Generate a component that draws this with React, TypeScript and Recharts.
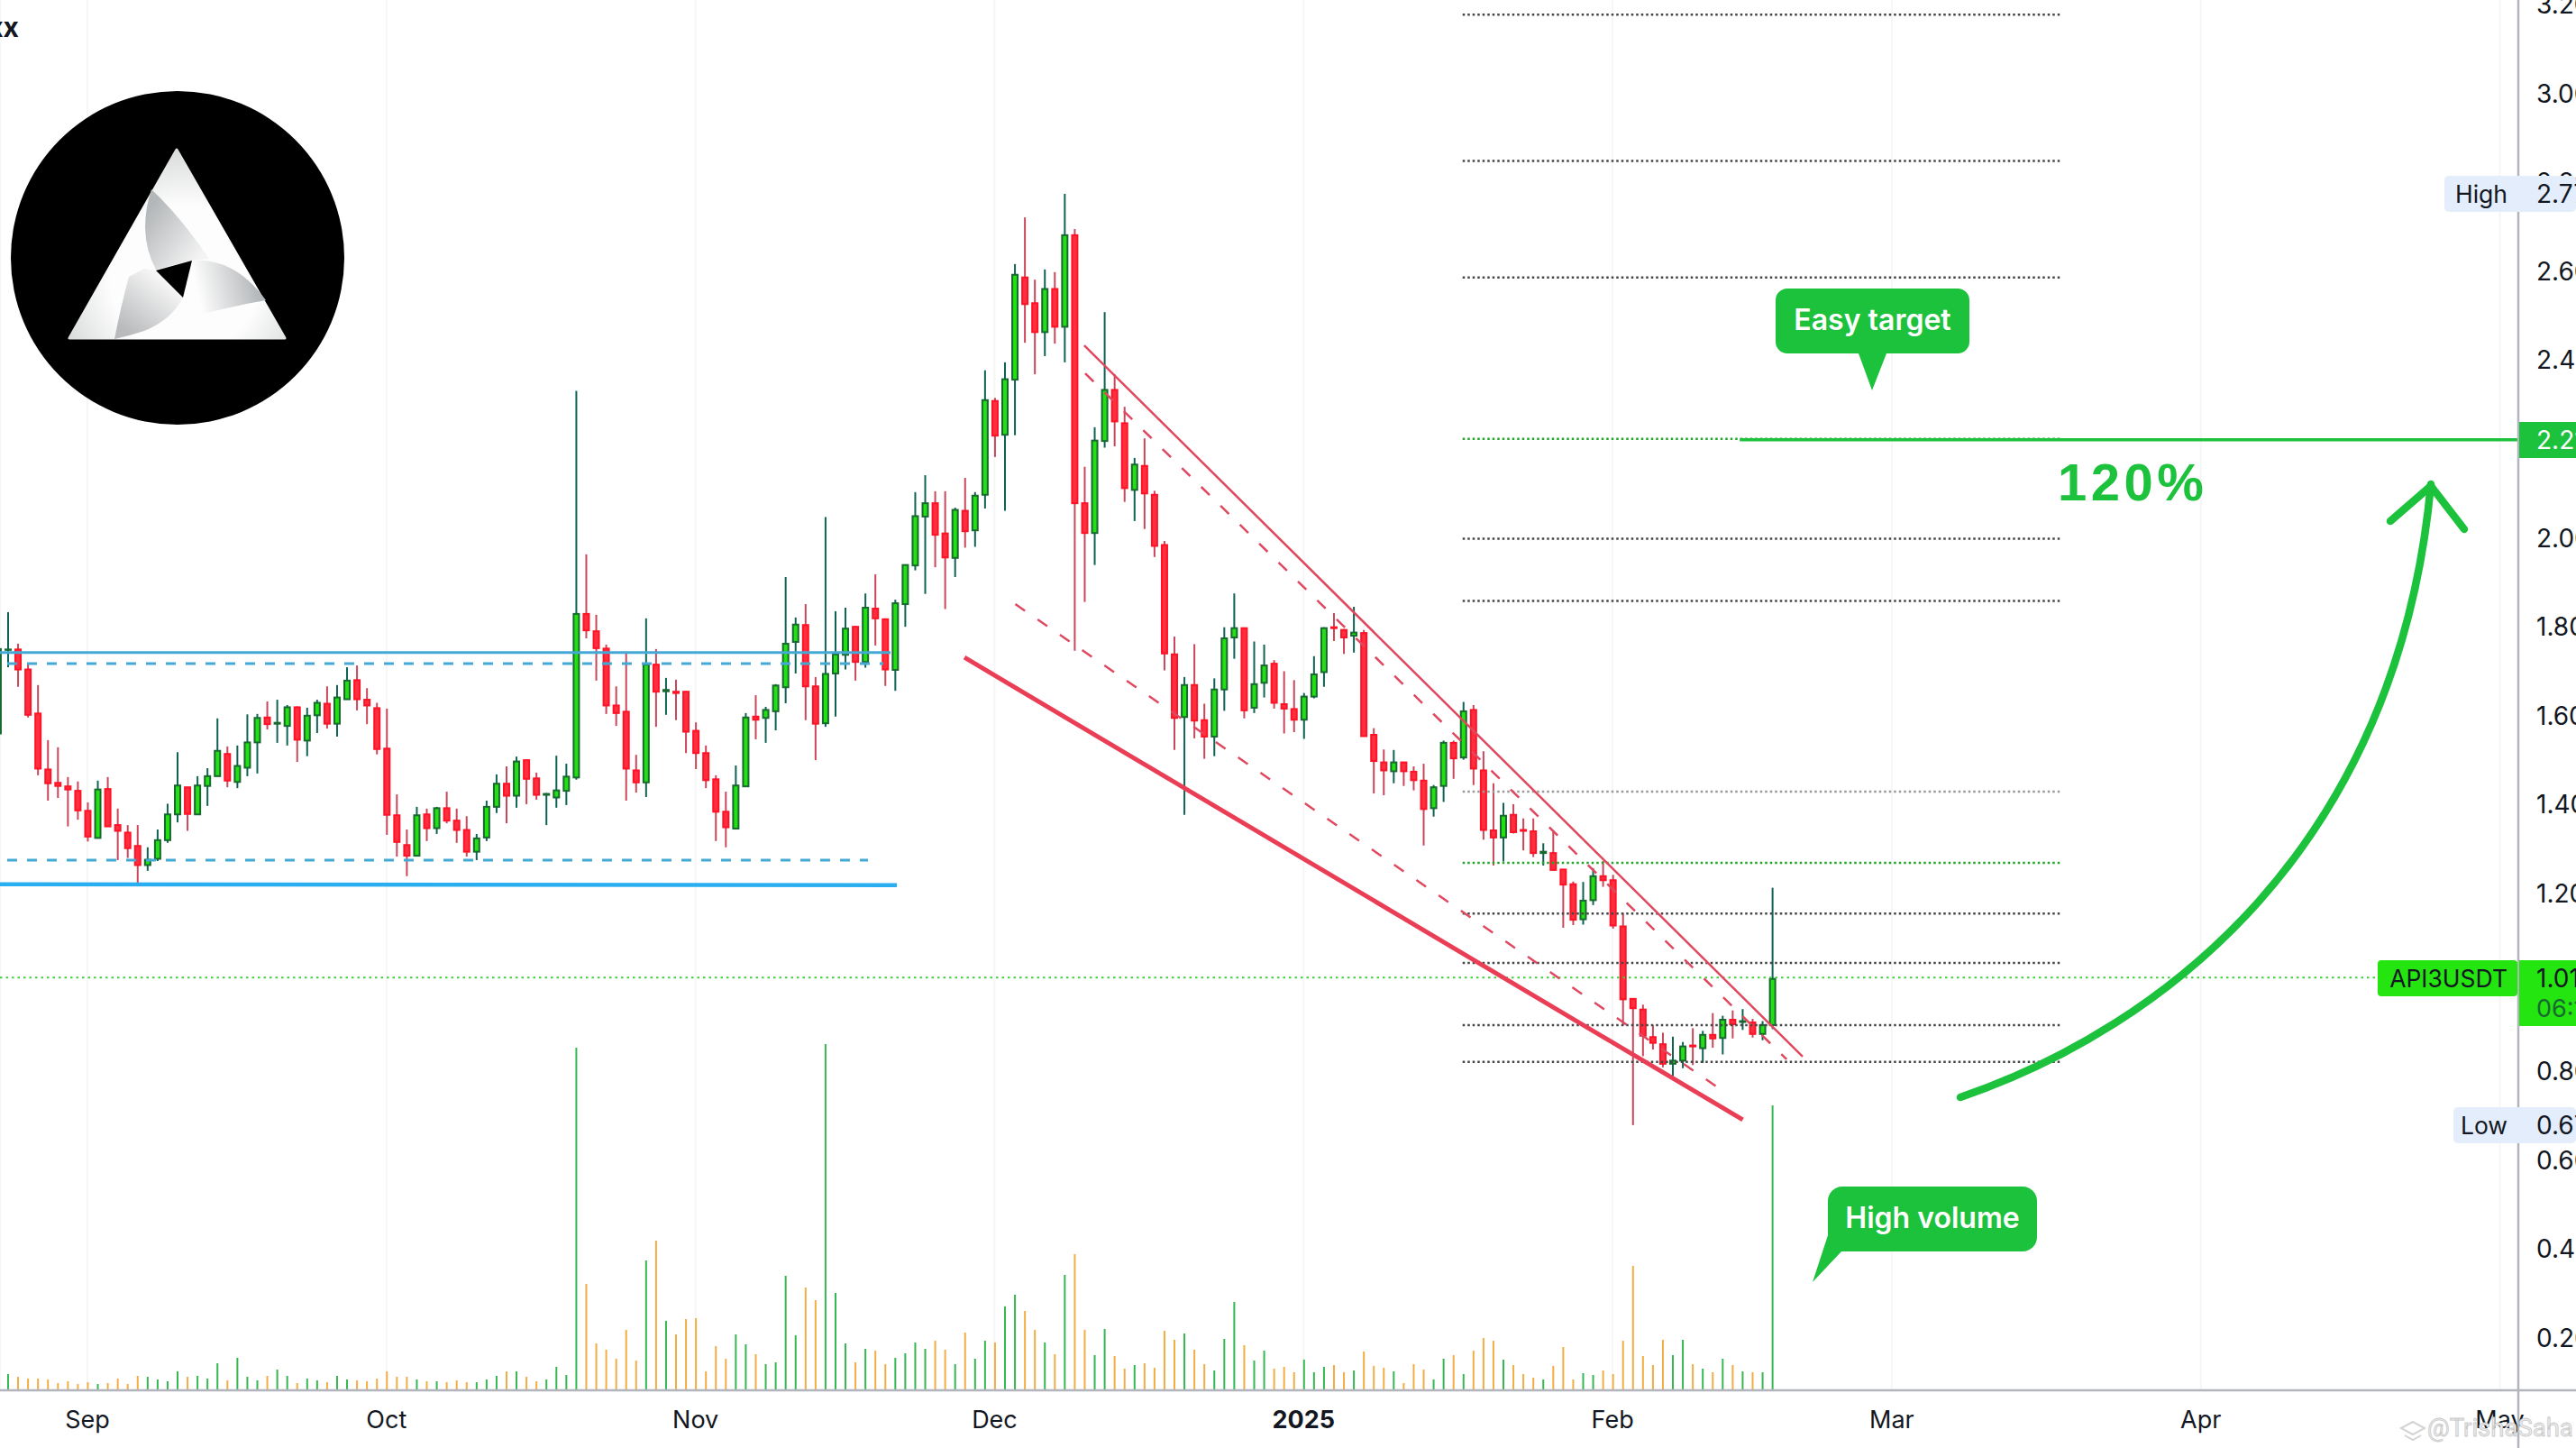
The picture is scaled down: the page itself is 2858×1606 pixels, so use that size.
import React from 'react';
import { ComposedChart, Bar, Cell, XAxis, YAxis, CartesianGrid, ReferenceLine } from 'recharts';

const FIRST_DAY = -9; // days counted from 1 Sep 2024

const opens = [
  1.560,
  1.748, 1.749, 1.704, 1.605, 1.479, 1.449, 1.441, 1.431,
  1.386, 1.325, 1.435, 1.354, 1.337, 1.307, 1.264, 1.278, 1.320, 1.378,
  1.439, 1.378, 1.442, 1.464, 1.514, 1.451, 1.483, 1.540, 1.596, 1.582,
  1.577, 1.619, 1.544, 1.601, 1.627, 1.582, 1.637, 1.680, 1.636, 1.617,
  1.526, 1.376, 1.309, 1.285, 1.378, 1.347, 1.392, 1.364, 1.343, 1.294,
  1.326, 1.395, 1.447, 1.420, 1.500, 1.459, 1.422, 1.416, 1.431, 1.461,
  1.829, 1.790, 1.751, 1.623, 1.609, 1.477, 1.450, 1.715, 1.655, 1.654,
  1.654, 1.566, 1.516, 1.457, 1.384, 1.346, 1.441, 1.598, 1.595, 1.610,
  1.664, 1.766, 1.804, 1.666, 1.583, 1.695, 1.737, 1.800, 1.721, 1.841,
  1.817, 1.703, 1.851, 1.938, 2.048, 2.078, 2.010, 1.955, 2.061, 2.017,
  2.097, 2.308, 2.232, 2.356, 2.586, 2.528, 2.463, 2.560, 2.475, 2.681,
  2.078, 2.011, 2.218, 2.333, 2.258, 2.108, 2.162, 2.097, 1.984, 1.738,
  1.597, 1.669, 1.590, 1.553, 1.659, 1.776, 1.797, 1.618, 1.674, 1.717,
  1.626, 1.615, 1.591, 1.643, 1.698, 1.799, 1.793, 1.780, 1.786, 1.557,
  1.495, 1.475, 1.495, 1.474, 1.454, 1.392, 1.442, 1.539, 1.506, 1.613,
  1.477, 1.342, 1.326, 1.377, 1.343, 1.340, 1.291, 1.291, 1.254, 1.221,
  1.142, 1.185, 1.239, 1.230, 1.126, 0.963, 0.939, 0.877, 0.861, 0.817,
  0.824, 0.858, 0.852, 0.882, 0.875, 0.916, 0.911, 0.910, 0.884, 0.904,
];

const closes = [
  1.750,
  1.749, 1.704, 1.602, 1.481, 1.448, 1.442, 1.434, 1.387,
  1.328, 1.434, 1.351, 1.341, 1.302, 1.264, 1.276, 1.320, 1.378, 1.443,
  1.379, 1.443, 1.464, 1.521, 1.454, 1.487, 1.540, 1.595, 1.581, 1.584,
  1.619, 1.546, 1.600, 1.629, 1.582, 1.641, 1.679, 1.637, 1.623, 1.525,
  1.377, 1.316, 1.285, 1.376, 1.347, 1.392, 1.364, 1.343, 1.294, 1.324,
  1.395, 1.447, 1.420, 1.497, 1.458, 1.422, 1.424, 1.432, 1.463, 1.829,
  1.792, 1.752, 1.623, 1.606, 1.481, 1.450, 1.715, 1.654, 1.658, 1.651,
  1.564, 1.516, 1.455, 1.384, 1.349, 1.443, 1.596, 1.591, 1.613, 1.668,
  1.762, 1.805, 1.666, 1.582, 1.694, 1.738, 1.796, 1.721, 1.843, 1.819,
  1.704, 1.853, 1.939, 2.049, 2.078, 2.007, 1.956, 2.063, 2.015, 2.095,
  2.310, 2.230, 2.357, 2.592, 2.526, 2.463, 2.560, 2.475, 2.681, 2.078,
  2.011, 2.219, 2.333, 2.262, 2.112, 2.165, 2.100, 1.982, 1.740, 1.595,
  1.669, 1.589, 1.553, 1.659, 1.774, 1.797, 1.612, 1.671, 1.713, 1.629,
  1.616, 1.591, 1.643, 1.693, 1.797, 1.797, 1.776, 1.787, 1.554, 1.498,
  1.477, 1.495, 1.475, 1.455, 1.390, 1.439, 1.539, 1.504, 1.610, 1.481,
  1.343, 1.326, 1.375, 1.338, 1.341, 1.291, 1.294, 1.253, 1.220, 1.141,
  1.184, 1.239, 1.230, 1.128, 0.962, 0.942, 0.880, 0.864, 0.817, 0.824,
  0.856, 0.856, 0.882, 0.874, 0.916, 0.906, 0.913, 0.884, 0.904, 1.008,
];

const highs = [
  1.760,
  1.833, 1.762, 1.719, 1.669, 1.545, 1.529, 1.462, 1.452,
  1.405, 1.454, 1.462, 1.391, 1.354, 1.354, 1.304, 1.344, 1.402, 1.518,
  1.439, 1.464, 1.482, 1.594, 1.531, 1.533, 1.603, 1.604, 1.632, 1.636,
  1.624, 1.621, 1.618, 1.636, 1.666, 1.669, 1.709, 1.713, 1.662, 1.629,
  1.616, 1.423, 1.344, 1.395, 1.391, 1.395, 1.429, 1.391, 1.374, 1.334,
  1.409, 1.468, 1.486, 1.508, 1.500, 1.472, 1.426, 1.510, 1.492, 2.331,
  1.963, 1.827, 1.760, 1.666, 1.740, 1.512, 1.819, 1.750, 1.685, 1.681,
  1.654, 1.585, 1.533, 1.466, 1.429, 1.488, 1.606, 1.646, 1.620, 1.671,
  1.912, 1.821, 1.851, 1.687, 2.047, 1.835, 1.843, 1.802, 1.875, 1.918,
  1.819, 1.861, 1.940, 2.103, 2.141, 2.105, 2.105, 2.068, 2.135, 2.103,
  2.377, 2.315, 2.395, 2.616, 2.721, 2.581, 2.604, 2.598, 2.774, 2.695,
  2.160, 2.249, 2.508, 2.368, 2.295, 2.180, 2.224, 2.106, 1.993, 1.778,
  1.687, 1.761, 1.627, 1.684, 1.799, 1.875, 1.797, 1.767, 1.760, 1.725,
  1.700, 1.680, 1.651, 1.734, 1.799, 1.831, 1.795, 1.845, 1.793, 1.572,
  1.524, 1.523, 1.495, 1.486, 1.492, 1.444, 1.544, 1.544, 1.631, 1.624,
  1.520, 1.448, 1.404, 1.401, 1.369, 1.369, 1.313, 1.341, 1.254, 1.227,
  1.226, 1.257, 1.273, 1.242, 1.156, 0.963, 0.950, 0.904, 0.887, 0.878,
  0.866, 0.897, 0.891, 0.931, 0.925, 0.937, 0.940, 0.918, 0.913, 1.213,
];

const lows = [
  1.551,
  1.709, 1.665, 1.596, 1.466, 1.409, 1.415, 1.351, 1.366,
  1.317, 1.324, 1.351, 1.275, 1.280, 1.219, 1.251, 1.273, 1.314, 1.360,
  1.341, 1.378, 1.397, 1.464, 1.439, 1.437, 1.464, 1.470, 1.569, 1.539,
  1.533, 1.496, 1.509, 1.561, 1.571, 1.553, 1.637, 1.612, 1.581, 1.513,
  1.332, 1.283, 1.239, 1.285, 1.318, 1.334, 1.358, 1.314, 1.283, 1.275,
  1.318, 1.381, 1.358, 1.393, 1.401, 1.411, 1.354, 1.393, 1.399, 1.456,
  1.774, 1.679, 1.604, 1.577, 1.409, 1.427, 1.417, 1.575, 1.602, 1.590,
  1.516, 1.480, 1.437, 1.318, 1.304, 1.345, 1.441, 1.547, 1.539, 1.567,
  1.628, 1.695, 1.590, 1.500, 1.575, 1.598, 1.704, 1.679, 1.708, 1.758,
  1.667, 1.656, 1.800, 1.927, 1.874, 1.934, 1.840, 1.912, 1.978, 1.980,
  2.066, 2.182, 2.061, 2.231, 2.439, 2.368, 2.409, 2.437, 2.395, 1.746,
  1.856, 1.939, 2.203, 2.206, 2.081, 2.038, 2.020, 1.957, 1.702, 1.523,
  1.377, 1.549, 1.503, 1.509, 1.611, 1.728, 1.594, 1.606, 1.641, 1.616,
  1.560, 1.563, 1.548, 1.639, 1.665, 1.768, 1.739, 1.742, 1.553, 1.425,
  1.421, 1.448, 1.442, 1.432, 1.308, 1.373, 1.406, 1.458, 1.501, 1.444,
  1.321, 1.263, 1.272, 1.335, 1.297, 1.282, 1.263, 1.252, 1.123, 1.129,
  1.130, 1.174, 1.215, 1.121, 0.903, 0.679, 0.834, 0.849, 0.809, 0.789,
  0.807, 0.814, 0.819, 0.853, 0.838, 0.874, 0.893, 0.876, 0.870, 0.895,
];

const volumes = [
  14,
  18, 15, 13, 13, 12, 8, 10, 7,
  9, 7, 8, 13, 7, 16, 15, 12, 10, 21,
  15, 16, 13, 30, 11, 36, 15, 11, 16, 23,
  16, 8, 13, 11, 9, 16, 12, 11, 10, 13,
  21, 15, 15, 12, 10, 10, 9, 11, 9, 9,
  12, 16, 21, 21, 15, 10, 12, 26, 17, 380,
  118, 52, 45, 35, 67, 33, 144, 166, 77, 62,
  79, 80, 21, 49, 35, 62, 51, 40, 29, 31,
  127, 61, 114, 100, 384, 108, 52, 31, 46, 44,
  29, 36, 41, 53, 46, 55, 45, 29, 64, 35,
  55, 53, 93, 106, 88, 67, 53, 40, 128, 151,
  67, 39, 68, 38, 24, 28, 30, 25, 66, 56,
  63, 45, 29, 22, 57, 98, 50, 33, 44, 24,
  26, 20, 34, 20, 26, 28, 20, 22, 43, 27,
  25, 21, 8, 29, 23, 12, 35, 39, 18, 44,
  58, 55, 34, 28, 18, 14, 12, 27, 48, 12,
  19, 17, 22, 18, 55, 138, 38, 28, 56, 39,
  56, 29, 24, 20, 35, 28, 21, 20, 20, 316,
];

const monthDays = [0, 30, 61, 91, 122, 153, 181, 212, 242];
const monthLabels = ['Sep', 'Oct', 'Nov', 'Dec', '2025', 'Feb', 'Mar', 'Apr', 'May'];
// 2.20 and 1.00 sit under the coloured price labels, so they are not drawn
const priceTicks = [3.2, 3.0, 2.8, 2.6, 2.4, 2.0, 1.8, 1.6, 1.4, 1.2, 0.8, 0.6, 0.4, 0.2];

// fib style levels, drawn between these two days
const levelFrom = 137.95;
const levelTo = 198.0;
const darkLevels = [3.177, 2.848, 2.586, 1.998, 1.858, 1.155, 1.044, 0.904, 0.821];
const grayLevels = [1.429];
const greenLevels = [2.223, 1.269];

const DAY_MIN = -8.77;
const DAY_MAX = 243.85;
const PRICE_MIN = 0.0824;
const PRICE_MAX = 3.2101;
const VOLUME_MAX = 1542;
const FONT = 'Inter, sans-serif';

const rows = opens.map((open, i) => ({
  day: FIRST_DAY + i,
  open,
  close: closes[i],
  high: highs[i],
  low: lows[i],
  volume: volumes[i],
}));

const CandleShape = (props: any) => {
  const { x, y, width, height, payload } = props;
  const { open, close, high, low } = payload;
  const up = close >= open;
  const k = height / (high - low);
  const cx = x + width / 2;
  const top = y + (high - Math.max(open, close)) * k;
  const bodyH = Math.abs(open - close) * k;
  return (
    <g>
      <line x1={cx} x2={cx} y1={y} y2={y + height} stroke={up ? '#0f6354' : '#c9475b'} strokeWidth={2} />
      <rect
        x={cx - 3}
        y={top}
        width={6}
        height={bodyH}
        fill={up ? '#22e012' : '#ff2f3f'}
        stroke={up ? '#17692f' : '#ff1226'}
        strokeWidth={2}
      />
    </g>
  );
};

const TimeTick = (props: any) => {
  const { x, payload } = props;
  const i = monthDays.indexOf(payload.value);
  const bold = monthLabels[i] === '2025';
  return (
    <text x={x} y={1584} textAnchor="middle" fontFamily={FONT} fontSize={27} fontWeight={bold ? 700 : 400} fill="#131722">
      {monthLabels[i]}
    </text>
  );
};

const PriceTick = (props: any) => {
  const { x, y, payload } = props;
  return (
    <text x={x} y={y + 10} textAnchor="start" fontFamily={FONT} fontSize={28} fill="#131722">
      {payload.value.toFixed(2)}
    </text>
  );
};

const Logo = () => (
  <g>
    <defs>
      <radialGradient id="logoBase" gradientUnits="userSpaceOnUse" cx={205} cy={310} r={150}>
        <stop offset="0.55" stopColor="#fdfdfd" />
        <stop offset="1" stopColor="#d6d8d8" />
      </radialGradient>
      <linearGradient id="bladeTop" gradientUnits="userSpaceOnUse" x1={160} y1={240} x2={222} y2={285}>
        <stop offset="0" stopColor="#b4b7b9" />
        <stop offset="1" stopColor="#f4f4f4" />
      </linearGradient>
      <linearGradient id="bladeRight" gradientUnits="userSpaceOnUse" x1={285} y1={322} x2={222} y2={336}>
        <stop offset="0" stopColor="#b6b9bb" />
        <stop offset="1" stopColor="#fdfdfd" />
      </linearGradient>
      <linearGradient id="bladeLeft" gradientUnits="userSpaceOnUse" x1={140} y1={368} x2={184} y2={312}>
        <stop offset="0" stopColor="#b8babc" />
        <stop offset="1" stopColor="#f6f6f6" />
      </linearGradient>
    </defs>
    <circle cx={197} cy={286} r={185} fill="#000" />
    <path d="M196 166 L77 375 L316 375 Z" fill="url(#logoBase)" stroke="url(#logoBase)" strokeWidth={3} strokeLinejoin="round" />
    <path d="M168 210 Q152 260 173 299 L213 289 L232 287 Q200 240 168 210 Z" fill="url(#bladeTop)" />
    <path d="M213 289 Q260 285 295 333 Q255 340 218 350 L203 330 Q210 315 213 289 Z" fill="url(#bladeRight)" />
    <path d="M173 300 L203 330 Q190 355 160 367 Q145 372 127 376 Q134 340 143 307 L160 298 Z" fill="url(#bladeLeft)" />
    <path d="M173 300 L213 289 L203 330 Z" fill="#000" />
  </g>
);

const Overlay = () => (
  <svg width={2858} height={1606} style={{ position: 'absolute', left: 0, top: 0, pointerEvents: 'none' }}>
    <text x={21} y={41} textAnchor="end" fontFamily="Inter, sans-serif" fontSize={30} fontWeight={700} fill="#131722">xx</text>
    <Logo />

    {/* axis lines run on past the plot area */}
    <line x1={2794} x2={2794} y1={1542} y2={1606} stroke="#b2b5be" strokeWidth={2.5} />
    <line x1={2794} x2={2858} y1={1542} y2={1542} stroke="#b2b5be" strokeWidth={2.5} />

    {/* arrow */}
    <path d="M2175 1217 C2400 1140 2660 940 2697 537" fill="none" stroke="#1cc13c" strokeWidth={8.5} strokeLinecap="round" />
    <path d="M2652 578 L2697 539 L2734 587" fill="none" stroke="#1cc13c" strokeWidth={8.5} strokeLinecap="round" strokeLinejoin="round" />

    {/* callouts */}
    <path d="M1983 320 H2172 A13 13 0 0 1 2185 333 V379 A13 13 0 0 1 2172 392 H2093 L2077 433 L2062 392 H1983 A13 13 0 0 1 1970 379 V333 A13 13 0 0 1 1983 320 Z" fill="#1cc13c" />
    <text x={2077.5} y={366} textAnchor="middle" fontFamily="Inter, sans-serif" fontSize={32} fontWeight={600} fill="#fff">Easy target</text>
    <text x={2283} y={555} fontFamily="'Liberation Sans', sans-serif" fontSize={58} fontWeight={700} letterSpacing={4.5} fill="#1cc13c">120%</text>
    <path d="M2044 1316 H2244 A16 16 0 0 1 2260 1332 V1372 A16 16 0 0 1 2244 1388 H2043 L2011 1422 L2028 1370 V1332 A16 16 0 0 1 2044 1316 Z" fill="#1cc13c" />
    <text x={2144} y={1362} textAnchor="middle" fontFamily="Inter, sans-serif" fontSize={32} fontWeight={600} fill="#fff">High volume</text>

    {/* price scale labels */}
    <rect x={2712} y={195} width={146} height={40} rx={5} fill="#e3edfb" />
    <text x={2782} y={225} textAnchor="end" fontFamily={FONT} fontSize={26.5} fill="#131722">High</text>
    <text x={2814} y={225} fontFamily={FONT} fontSize={28} fill="#131722">2.77</text>
    <rect x={2795} y={468} width={63} height={40} fill="#1cc13c" />
    <text x={2814} y={498} fontFamily={FONT} fontSize={28} fill="#fff">2.21</text>
    <rect x={2638} y={1065} width={155} height={40} rx={4} fill="#24e50f" />
    <text x={2782} y={1095} textAnchor="end" fontFamily={FONT} fontSize={26.5} fill="#131722">API3USDT</text>
    <rect x={2795} y={1065} width={63} height={73} fill="#24e50f" />
    <text x={2814} y={1095} fontFamily={FONT} fontSize={28} fill="#131722">1.01</text>
    <text x={2814} y={1128} fontFamily={FONT} fontSize={27} fill="#17692f">06:12:41</text>
    <rect x={2722} y={1228} width={136} height={40} rx={5} fill="#e3edfb" />
    <text x={2782} y={1258} textAnchor="end" fontFamily={FONT} fontSize={26.5} fill="#131722">Low</text>
    <text x={2814} y={1258} fontFamily={FONT} fontSize={28} fill="#131722">0.67</text>

    {/* watermark */}
    <path d="M2664 1584 L2677 1577 L2690 1584 L2677 1591 Z M2668 1592 L2677 1597 L2686 1592" fill="none" stroke="#d4d4d4" strokeWidth={2} />
    <text x={2693} y={1593} fontFamily="Roboto, sans-serif" fontSize={27.5} fill="#ececec" stroke="#c8c8c8" strokeWidth={0.8}>@TrishaSaha</text>
  </svg>
);

export default function App() {
  return (
    <div style={{ position: 'absolute', left: 0, top: 0, width: 2858, height: 1606, overflow: 'hidden', background: '#fff' }}>
      <ComposedChart width={2858} height={1606} data={rows} margin={{ top: 0, right: 0, bottom: 0, left: 0 }}>
        <CartesianGrid xAxisId="time" yAxisId="price" vertical horizontal={false} stroke="#f6f6f7" strokeWidth={2} />
        <XAxis
          xAxisId="time"
          dataKey="day"
          type="number"
          domain={[DAY_MIN, DAY_MAX]}
          allowDataOverflow
          ticks={monthDays}
          interval={0}
          height={64}
          tickLine={false}
          axisLine={{ stroke: '#b2b5be', strokeWidth: 2.5 }}
          tick={TimeTick}
        />
        <XAxis xAxisId="vol" dataKey="day" type="number" domain={[DAY_MIN, DAY_MAX]} allowDataOverflow hide />
        <YAxis
          yAxisId="price"
          orientation="right"
          type="number"
          domain={[PRICE_MIN, PRICE_MAX]}
          allowDataOverflow
          ticks={priceTicks}
          interval={0}
          width={64}
          tickLine={false}
          tickMargin={14}
          axisLine={{ stroke: '#b2b5be', strokeWidth: 2.5 }}
          tick={PriceTick}
        />
        <YAxis yAxisId="volume" type="number" domain={[0, VOLUME_MAX]} hide />

        {darkLevels.map((p) => (
          <ReferenceLine key={p} xAxisId="time" yAxisId="price" segment={[{ x: levelFrom, y: p }, { x: levelTo, y: p }]} stroke="#444" strokeWidth={2.5} strokeDasharray="2.5 3" />
        ))}
        {grayLevels.map((p) => (
          <ReferenceLine key={p} xAxisId="time" yAxisId="price" segment={[{ x: levelFrom, y: p }, { x: levelTo, y: p }]} stroke="#999" strokeWidth={2.5} strokeDasharray="2.5 3" />
        ))}
        {greenLevels.map((p) => (
          <ReferenceLine key={p} xAxisId="time" yAxisId="price" segment={[{ x: levelFrom, y: p }, { x: levelTo, y: p }]} stroke="#22a52a" strokeWidth={2.5} strokeDasharray="2.5 3" />
        ))}

        {/* last price */}
        <ReferenceLine xAxisId="time" yAxisId="price" segment={[{ x: DAY_MIN, y: 1.011 }, { x: 229.6, y: 1.011 }]} stroke="#3ecf3e" strokeWidth={2} strokeDasharray="2.5 4" />

        {/* range box */}
        <ReferenceLine xAxisId="time" yAxisId="price" segment={[{ x: DAY_MIN, y: 1.742 }, { x: 80.56, y: 1.742 }]} stroke="#44a9d4" strokeWidth={3} />
        <ReferenceLine xAxisId="time" yAxisId="price" segment={[{ x: -8.05, y: 1.717 }, { x: 79.84, y: 1.717 }]} stroke="#44a9d4" strokeWidth={3} strokeDasharray="11 11" />
        <ReferenceLine xAxisId="time" yAxisId="price" segment={[{ x: -8.05, y: 1.275 }, { x: 78.3, y: 1.275 }]} stroke="#44a9d4" strokeWidth={3} strokeDasharray="11 11" />
        <ReferenceLine xAxisId="time" yAxisId="price" segment={[{ x: DAY_MIN, y: 1.221 }, { x: 81.2, y: 1.219 }]} stroke="#29aef0" strokeWidth={4.5} />

        {/* falling wedge */}
        <ReferenceLine xAxisId="time" yAxisId="price" segment={[{ x: 99.99, y: 2.433 }, { x: 172.06, y: 0.833 }]} stroke="#e0485f" strokeWidth={2.5} />
        <ReferenceLine xAxisId="time" yAxisId="price" segment={[{ x: 100.09, y: 2.37 }, { x: 170.45, y: 0.827 }]} stroke="#e0485f" strokeWidth={2.5} strokeDasharray="13 17" />
        <ReferenceLine xAxisId="time" yAxisId="price" segment={[{ x: 93.08, y: 1.851 }, { x: 164.05, y: 0.756 }]} stroke="#e0485f" strokeWidth={2.5} strokeDasharray="13 17" />
        <ReferenceLine xAxisId="time" yAxisId="price" segment={[{ x: 87.98, y: 1.731 }, { x: 166.05, y: 0.691 }]} stroke="#e93e55" strokeWidth={5} />

        {/* target */}
        <ReferenceLine xAxisId="time" yAxisId="price" segment={[{ x: 165.75, y: 2.221 }, { x: DAY_MAX, y: 2.221 }]} stroke="#1cc13c" strokeWidth={3.5} />

        <Bar xAxisId="vol" yAxisId="volume" dataKey="volume" barSize={2} isAnimationActive={false}>
          {rows.map((r) => (
            <Cell key={r.day} fill={r.close >= r.open ? '#35b852' : '#f2ae45'} />
          ))}
        </Bar>
        <Bar
          xAxisId="time"
          yAxisId="price"
          dataKey={(r: any) => [r.low, r.high]}
          barSize={8}
          shape={CandleShape}
          isAnimationActive={false}
        />
      </ComposedChart>
      <Overlay />
    </div>
  );
}
